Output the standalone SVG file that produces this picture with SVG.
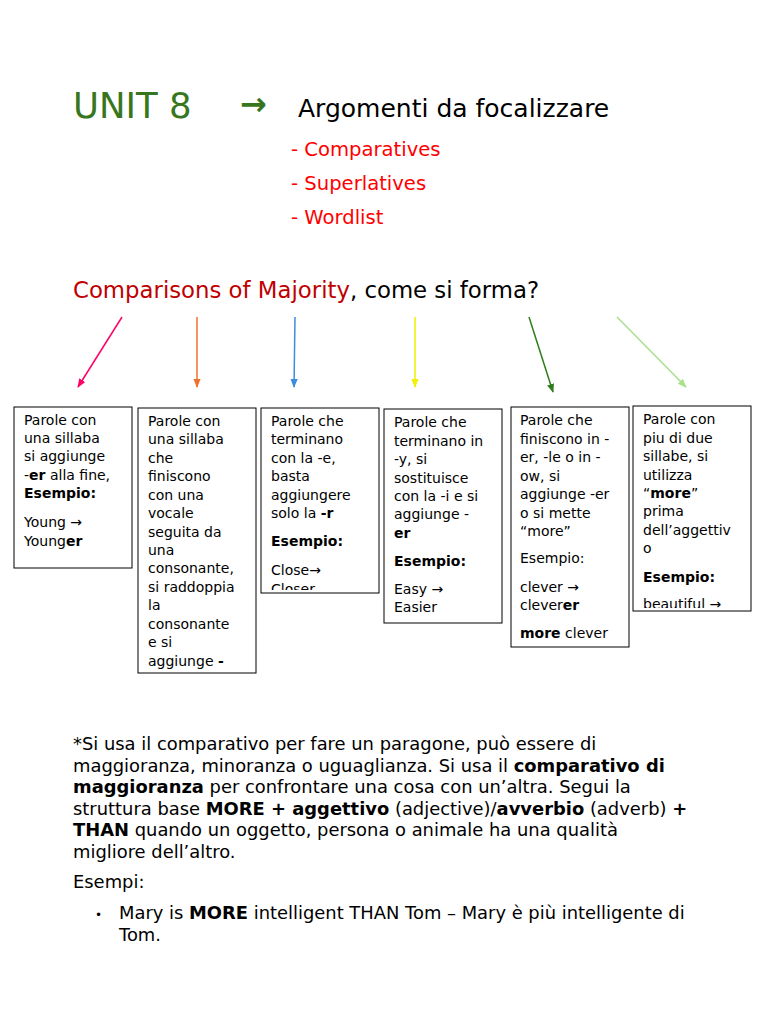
<svg xmlns="http://www.w3.org/2000/svg" width="768" height="1024" viewBox="0 0 768 1024">
<style>
text{font-family:"DejaVu Sans",sans-serif;fill:#000}
.bx text{font-size:14px}
.box{fill:#fff;stroke:#000;stroke-width:1}
.b{font-weight:bold}
.p{font-size:17.9px}
.r{fill:#ff0000;font-size:19.6px}
</style>
<defs>
<clipPath id="c3"><rect x="261" y="408" width="118" height="182"/></clipPath>
<clipPath id="c6"><rect x="633" y="406" width="118" height="202"/></clipPath>
<marker id="m" viewBox="0 0 10 10" refX="9" refY="5" markerWidth="6" markerHeight="6" orient="auto"><path d="M0,1 L10,5 L0,9 Z" fill="context-stroke"/></marker>
</defs>
<rect width="768" height="1024" fill="#fff"/>
<g id="header">
<text x="73" y="118" font-size="35.5" style="fill:#38761d">UNIT 8</text>
<text x="240" y="115" font-size="32" font-weight="bold" style="fill:#38761d">→</text>
<text x="298" y="117" font-size="25">Argomenti da focalizzare</text>
<text x="291" y="156" class="r">- Comparatives</text>
<text x="291" y="190" class="r">- Superlatives</text>
<text x="291" y="224" class="r">- Wordlist</text>
<text x="73" y="298" font-size="22.8"><tspan style="fill:#c00000">Comparisons of Majority</tspan>, come si forma?</text>
</g>
<g id="connectors" stroke-width="1.5" fill="none">
<line x1="122" y1="317" x2="78" y2="387" stroke="#ff0066" marker-end="url(#m)"/>
<line x1="197" y1="317" x2="197" y2="387" stroke="#f07030" marker-end="url(#m)"/>
<line x1="295" y1="317" x2="294" y2="387" stroke="#3c8ce0" marker-end="url(#m)"/>
<line x1="415" y1="317" x2="415" y2="387" stroke="#f0f000" marker-end="url(#m)"/>
<line x1="529" y1="317" x2="553" y2="392" stroke="#2e7d1a" marker-end="url(#m)"/>
<line x1="617" y1="317" x2="686" y2="387" stroke="#a8e08c" marker-end="url(#m)"/>
</g>
<g id="box1" class="bx">
<rect class="box" x="14" y="407" width="118" height="161"/>
<text x="24" y="425">Parole con</text><text x="24" y="443">una sillaba</text><text x="24" y="461">si aggiunge</text>
<text x="24" y="480">-<tspan class="b">er</tspan> alla fine,</text><text x="24" y="498" class="b">Esempio:</text>
<text x="24" y="527">Young →</text><text x="24" y="546">Young<tspan class="b">er</tspan></text>
</g>
<g id="box2" class="bx">
<rect class="box" x="138" y="408" width="118" height="265"/>
<text x="148" y="426">Parole con</text><text x="148" y="444">una sillaba</text><text x="148" y="463">che</text>
<text x="148" y="481">finiscono</text><text x="148" y="500">con una</text><text x="148" y="518">vocale</text>
<text x="148" y="537">seguita da</text><text x="148" y="555">una</text><text x="148" y="573">consonante,</text>
<text x="148" y="592">si raddoppia</text><text x="148" y="610">la</text><text x="148" y="629">consonante</text>
<text x="148" y="647">e si</text><text x="148" y="666">aggiunge <tspan class="b">-</tspan></text>
</g>
<g id="box3" class="bx">
<rect class="box" x="261" y="408" width="118" height="185"/>
<g clip-path="url(#c3)">
<text x="271" y="426">Parole che</text><text x="271" y="444">terminano</text><text x="271" y="463">con la -e,</text>
<text x="271" y="481">basta</text><text x="271" y="500">aggiungere</text><text x="271" y="518">solo la <tspan class="b">-r</tspan></text>
<text x="271" y="546" class="b">Esempio:</text>
<text x="271" y="575">Close→</text><text x="271" y="594">Closer</text>
</g>
</g>
<g id="box4" class="bx">
<rect class="box" x="384" y="409" width="118" height="214"/>
<text x="394" y="427">Parole che</text><text x="394" y="446">terminano in</text><text x="394" y="464">-y, si</text>
<text x="394" y="483">sostituisce</text><text x="394" y="501">con la -i e si</text><text x="394" y="519">aggiunge -</text>
<text x="394" y="538" class="b">er</text><text x="394" y="566" class="b">Esempio:</text>
<text x="394" y="594">Easy →</text><text x="394" y="612">Easier</text>
</g>
<g id="box5" class="bx">
<rect class="box" x="511" y="407" width="118" height="240"/>
<text x="520" y="425">Parole che</text><text x="520" y="444">finiscono in -</text><text x="520" y="462">er, -le o in -</text>
<text x="520" y="481">ow, si</text><text x="520" y="499">aggiunge -er</text><text x="520" y="518">o si mette</text>
<text x="520" y="536">“more”</text><text x="520" y="563">Esempio:</text>
<text x="520" y="592">clever →</text><text x="520" y="610">clever<tspan class="b">er</tspan></text>
<text x="520" y="638"><tspan class="b">more</tspan> clever</text>
</g>
<g id="box6" class="bx">
<rect class="box" x="633" y="406" width="118" height="205"/>
<g clip-path="url(#c6)">
<text x="643" y="424">Parole con</text><text x="643" y="443">piu di due</text><text x="643" y="461">sillabe, si</text>
<text x="643" y="480">utilizza</text><text x="643" y="498">“<tspan class="b">more</tspan>”</text><text x="643" y="516">prima</text>
<text x="643" y="535">dell’aggettiv</text><text x="643" y="553">o</text>
<text x="643" y="582" class="b">Esempio:</text>
<text x="643" y="609">beautiful →</text>
</g>
</g>
<g id="body">
<text x="73" y="750" class="p">*Si usa il comparativo per fare un paragone, può essere di</text>
<text x="73" y="772" class="p">maggioranza, minoranza o uguaglianza. Si usa il <tspan class="b">comparativo di</tspan></text>
<text x="73" y="793" class="p"><tspan class="b">maggioranza</tspan> per confrontare una cosa con un’altra. Segui la</text>
<text x="73" y="815" class="p">struttura base <tspan class="b">MORE + aggettivo</tspan> (adjective)/<tspan class="b">avverbio</tspan> (adverb) <tspan class="b">+</tspan></text>
<text x="73" y="836" class="p"><tspan class="b">THAN</tspan> quando un oggetto, persona o animale ha una qualità</text>
<text x="73" y="858" class="p">migliore dell’altro.</text>
<text x="73" y="888" class="p">Esempi:</text>
<text x="95" y="919" font-size="12">•</text>
<text x="119" y="919" class="p">Mary is <tspan class="b">MORE</tspan> intelligent THAN Tom – Mary è più intelligente di</text>
<text x="119" y="941" class="p">Tom.</text>
</g>
</svg>
